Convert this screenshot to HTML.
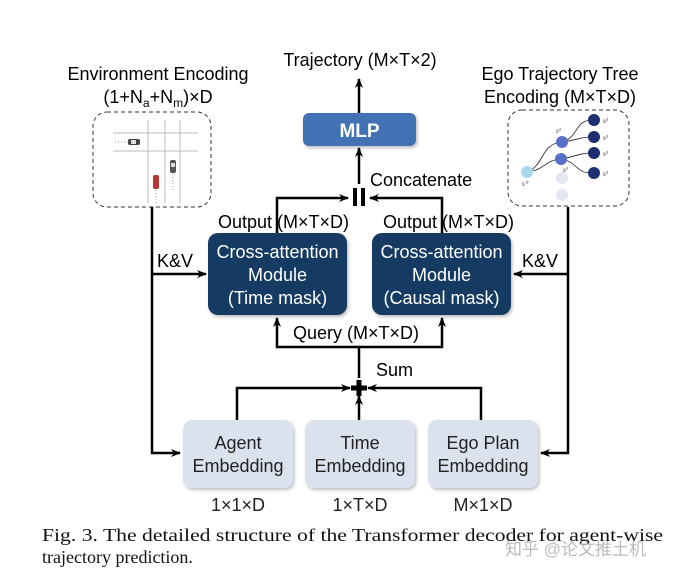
<!DOCTYPE html>
<html><head><style>
body{margin:0;background:#fff;}
svg{display:block;}
.s{font-family:"Liberation Sans",Arial,sans-serif;}
.r{font-family:"Liberation Serif",serif;}
</style></head><body>
<svg width="679" height="577" viewBox="0 0 679 577" xmlns="http://www.w3.org/2000/svg">
<defs>
<marker id="a" markerWidth="10" markerHeight="8" refX="9" refY="4" orient="auto" markerUnits="userSpaceOnUse">
<path d="M0,0 L10,4 L0,8 L3,4 Z" fill="#000"/></marker>
<filter id="sh" x="-10%" y="-10%" width="130%" height="130%"><feDropShadow dx="1.5" dy="2" stdDeviation="1.5" flood-opacity="0.25"/></filter>
</defs>
<rect width="679" height="577" fill="#fff"/>

<g class="s" font-size="18">
<text x="158" y="80" text-anchor="middle">Environment Encoding</text>
<text x="158" y="103" text-anchor="middle">(1+N<tspan font-size="12" dy="4">a</tspan><tspan dy="-4">+N</tspan><tspan font-size="12" dy="4">m</tspan><tspan dy="-4">)×D</tspan></text>
<text x="360" y="66" text-anchor="middle">Trajectory (M×T×2)</text>
<text x="560" y="80" text-anchor="middle">Ego Trajectory Tree</text>
<text x="560" y="103" text-anchor="middle">Encoding (M×T×D)</text>
</g>

<!-- env box -->
<rect x="93" y="112" width="118" height="95" rx="14" fill="none" stroke="#333" stroke-width="1" stroke-dasharray="4,3"/>
<g stroke="#bbb" stroke-width="1">
<line x1="113" y1="133" x2="198" y2="133"/><line x1="113" y1="151" x2="198" y2="151"/>
<line x1="148" y1="120" x2="148" y2="203"/><line x1="165" y1="120" x2="165" y2="203"/><line x1="180" y1="120" x2="180" y2="203"/>
</g>
<line x1="115" y1="142" x2="128" y2="142" stroke="#999" stroke-dasharray="1,2"/>
<rect x="128" y="139" width="12" height="6" rx="2" fill="#444"/><rect x="131" y="140" width="5" height="4" fill="#ddd"/>
<rect x="170" y="160" width="6" height="13" rx="2" fill="#555"/><rect x="171" y="163" width="4" height="4" fill="#ddd"/>
<line x1="173" y1="174" x2="173" y2="190" stroke="#999" stroke-dasharray="1,2"/>
<rect x="153" y="175" width="6" height="14" rx="2" fill="#b33"/>
<line x1="156" y1="190" x2="156" y2="204" stroke="#999" stroke-dasharray="1,2"/>

<!-- ego tree box -->
<rect x="508" y="110" width="121" height="96" rx="14" fill="none" stroke="#333" stroke-width="1" stroke-dasharray="4,3"/>
<g fill="none" stroke="#222" stroke-width="0.8">
<path d="M527,172 C545,165 540,145 561,142"/><path d="M527,172 C545,170 545,160 561,159"/>
<path d="M562,142 C578,138 575,120 592,120"/><path d="M562,142 C578,140 580,137 592,137"/>
<path d="M561,159 C578,156 580,153 592,153"/><path d="M561,159 C578,162 575,173 592,173"/>
</g>
<circle cx="527" cy="172" r="6" fill="#a8d8ea"/>
<circle cx="562" cy="142" r="6" fill="#5870c8"/><circle cx="561" cy="159" r="6" fill="#5870c8"/>
<circle cx="562" cy="178" r="6" fill="#e4e6f0"/><circle cx="562" cy="195" r="6" fill="#e4e6f0"/>
<circle cx="594" cy="120" r="6" fill="#1c2f6e"/><circle cx="594" cy="137" r="6" fill="#1c2f6e"/>
<circle cx="594" cy="153" r="6" fill="#1c2f6e"/><circle cx="594" cy="173" r="6" fill="#1c2f6e"/>
<g class="r" font-style="italic" font-size="7" fill="#333">
<text x="522" y="186">s⁰</text><text x="556" y="133">s¹</text><text x="563" y="172">s¹</text>
<text x="603" y="123">s²</text><text x="603" y="140">s²</text><text x="603" y="156">s²</text><text x="603" y="176">s²</text>
</g>

<!-- MLP -->
<rect x="303" y="113" width="113" height="33" rx="6" fill="#4272b3" filter="url(#sh)"/>
<text class="s" x="359.5" y="137" font-size="19" font-weight="bold" fill="#fff" text-anchor="middle">MLP</text>
<g stroke="#000" stroke-width="2.5" fill="none">
<line x1="359" y1="113" x2="359" y2="79" marker-end="url(#a)"/>
<line x1="359" y1="184" x2="359" y2="148" marker-end="url(#a)"/>
</g>
<rect x="353" y="188" width="4" height="18" fill="#000"/><rect x="361" y="188" width="4" height="18" fill="#000"/>

<g stroke="#000" stroke-width="2.5" fill="none">
<polyline points="277,233 277,198 348,198" marker-end="url(#a)"/>
<polyline points="442,233 442,198 370,198" marker-end="url(#a)"/>
<polyline points="359,378 359,347 277,347 277,318" marker-end="url(#a)"/>
<polyline points="359,347 442,347 442,318" marker-end="url(#a)"/>
<polyline points="152,207 152,453 180,453" marker-end="url(#a)"/>
<line x1="152" y1="274" x2="206" y2="274" marker-end="url(#a)"/>
<polyline points="568,207 568,453 541,453" marker-end="url(#a)"/>
<line x1="568" y1="274" x2="514" y2="274" marker-end="url(#a)"/>
<polyline points="237,420 237,388 350,388" marker-end="url(#a)"/>
<polyline points="481,420 481,388 368,388" marker-end="url(#a)"/>
<line x1="359" y1="420" x2="359" y2="396" marker-end="url(#a)"/>
</g>
<rect x="351" y="385.5" width="16" height="5" fill="#000"/><rect x="356.5" y="380" width="5" height="16" fill="#000"/>

<g class="s" font-size="18">
<text x="370" y="186">Concatenate</text>
<text x="376" y="376">Sum</text>
<text x="218" y="228">Output (M×T×D)</text>
<text x="383" y="228">Output (M×T×D)</text>
<text x="157" y="267">K&amp;V</text>
<text x="522" y="267">K&amp;V</text>
<text x="293" y="339">Query (M×T×D)</text>
</g>

<rect x="208" y="233" width="139" height="82" rx="10" fill="#143a62" filter="url(#sh)"/>
<rect x="372" y="233" width="139" height="82" rx="10" fill="#143a62" filter="url(#sh)"/>
<g class="s" font-size="18" fill="#fff" text-anchor="middle">
<text x="277.5" y="258">Cross-attention</text><text x="277.5" y="281">Module</text><text x="277.5" y="304">(Time mask)</text>
<text x="441.5" y="258">Cross-attention</text><text x="441.5" y="281">Module</text><text x="441.5" y="304">(Causal mask)</text>
</g>

<g fill="#dbe2ee" filter="url(#sh)">
<rect x="183" y="420" width="110" height="68" rx="9"/>
<rect x="305" y="420" width="110" height="68" rx="9"/>
<rect x="428" y="420" width="110" height="68" rx="9"/>
</g>
<g class="s" font-size="18" fill="#222" text-anchor="middle">
<text x="238" y="449">Agent</text><text x="238" y="472">Embedding</text>
<text x="360" y="449">Time</text><text x="360" y="472">Embedding</text>
<text x="483" y="449">Ego Plan</text><text x="483" y="472">Embedding</text>
<text x="238" y="511">1×1×D</text><text x="360" y="511">1×T×D</text><text x="483" y="511">M×1×D</text>
</g>

<g class="r" font-size="18" fill="#111">
<text x="42" y="541" textLength="621" lengthAdjust="spacingAndGlyphs">Fig. 3.   The detailed structure of the Transformer decoder for agent-wise</text>
<text x="42" y="563">trajectory prediction.</text>
</g>
<text x="505" y="555" font-size="17" fill="#bbb" style="font-family:'Liberation Sans','Noto Sans CJK SC',sans-serif">知乎 @论文推土机</text>
</svg>
</body></html>
